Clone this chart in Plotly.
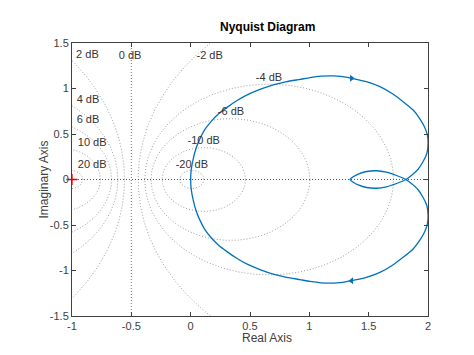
import numpy as np
import plotly.graph_objects as go

# ---- data ----
# Nyquist curve, one branch (the other branch is its complex conjugate)
nyq_re = [0.0, 0.004, 0.022, 0.045, 0.072, 0.12, 0.177, 0.233, 0.303, 0.388, 0.472, 0.584,
          0.696, 0.809, 0.921, 1.005, 1.10, 1.20, 1.28, 1.356, 1.48, 1.595, 1.707, 1.79,
          1.875, 1.93, 1.97, 1.995, 2.0, 1.99, 1.96, 1.915, 1.86, 1.814, 1.735, 1.65,
          1.567, 1.483, 1.412, 1.37, 1.342]
nyq_im = [0.0, 0.10, 0.23, 0.34, 0.43, 0.55, 0.645, 0.72, 0.79, 0.866, 0.928, 0.99,
          1.04, 1.075, 1.10, 1.12, 1.135, 1.138, 1.13, 1.112, 1.075, 1.02, 0.936, 0.855,
          0.763, 0.67, 0.58, 0.488, 0.378, 0.286, 0.20, 0.11, 0.045, 0.0, -0.044, -0.08,
          -0.096, -0.088, -0.059, -0.03, 0.0]
arrow_idx = 19

# M-circle grid levels (dB)
grid_db = [20, 10, 6, 4, 2, -2, -4, -6, -10, -20]
label_text = ["2 dB", "0 dB", "-2 dB", "-4 dB", "4 dB", "6 dB", "-6 dB", "10 dB", "-10 dB", "20 dB", "-20 dB"]
label_x = [-0.87, -0.51, 0.16, 0.66, -0.865, -0.865, 0.34, -0.83, 0.11, -0.83, 0.01]
label_y = [1.37, 1.35, 1.35, 1.11, 0.875, 0.65, 0.735, 0.40, 0.42, 0.16, 0.16]

x_ticks = [-1, -0.5, 0, 0.5, 1, 1.5, 2]
x_ticktext = ["-1", "-0.5", "0", "0.5", "1", "1.5", "2"]
y_ticks = [-1.5, -1, -0.5, 0, 0.5, 1, 1.5]
y_ticktext = ["-1.5", "-1", "-0.5", "0", "0.5", "1", "1.5"]

FONT = "Liberation Sans, Arial, sans-serif"
GRID_COL = "rgba(140,140,140,0.85)"
AX_COL = "#404040"
BLUE = "#0072BD"

fig = go.Figure()

# M circles
th = np.linspace(0, 2 * np.pi, 1441)
for db in grid_db:
    M = 10 ** (db / 20)
    c = -M ** 2 / (M ** 2 - 1)
    r = abs(M / (M ** 2 - 1))
    fig.add_trace(go.Scatter(x=c + r * np.cos(th), y=r * np.sin(th), mode="lines",
                             line=dict(color=GRID_COL, width=1, dash="1px,2px"),
                             hoverinfo="skip", showlegend=False))
# 0 dB line
fig.add_trace(go.Scatter(x=[-0.5, -0.5], y=[-1.5, 1.5], mode="lines",
                         line=dict(color="rgba(100,100,100,0.9)", width=1, dash="1px,2px"),
                         hoverinfo="skip", showlegend=False))
# real axis
fig.add_trace(go.Scatter(x=[-1, 2], y=[0, 0], mode="lines",
                         line=dict(color="rgba(80,80,80,0.95)", width=1, dash="1px,2px"),
                         hoverinfo="skip", showlegend=False))

# Nyquist curve: conjugate branch reversed, then branch
re_full = list(reversed(nyq_re)) + nyq_re[1:]
im_full = [-v for v in reversed(nyq_im)] + nyq_im[1:]
fig.add_trace(go.Scatter(x=re_full, y=im_full, mode="lines",
                         line=dict(color=BLUE, width=1.3, shape="spline", smoothing=0.5),
                         showlegend=False))
# arrows
fig.add_trace(go.Scatter(x=[nyq_re[arrow_idx]], y=[nyq_im[arrow_idx]], mode="markers",
                         marker=dict(symbol="triangle-right", size=6, color=BLUE),
                         showlegend=False))
fig.add_trace(go.Scatter(x=[nyq_re[arrow_idx]], y=[-nyq_im[arrow_idx]], mode="markers",
                         marker=dict(symbol="triangle-left", size=6, color=BLUE),
                         showlegend=False))
# critical point
fig.add_trace(go.Scatter(x=[-1], y=[0], mode="markers",
                         marker=dict(symbol="cross-thin", size=8, line=dict(color="red", width=1.3)),
                         showlegend=False, cliponaxis=False))

# labels
fig.add_trace(go.Scatter(x=label_x, y=label_y, mode="text", text=label_text,
                         textfont=dict(family=FONT, size=11, color="#333333"),
                         textposition="middle center", showlegend=False, hoverinfo="skip"))

fig.update_layout(
    width=474, height=355,
    margin=dict(l=64, r=54, t=35, b=47),
    paper_bgcolor="white", plot_bgcolor="white",
    font=dict(family=FONT, size=11, color=AX_COL),
    annotations=[
        dict(text="<b>Nyquist Diagram</b>", xref="paper", yref="paper", x=0.549, y=1.0,
             yshift=16, xanchor="center", yanchor="middle", showarrow=False,
             font=dict(family=FONT, size=12, color="black")),
        dict(text="Real Axis", xref="paper", yref="paper", x=0.549, y=0, yshift=-22,
             xanchor="center", yanchor="middle", showarrow=False,
             font=dict(family=FONT, size=12, color=AX_COL)),
        dict(text="Imaginary Axis", xref="paper", yref="paper", x=0, y=0.5, xshift=-29,
             textangle=-90, xanchor="center", yanchor="middle", showarrow=False,
             font=dict(family=FONT, size=12, color=AX_COL)),
    ],
)
fig.update_xaxes(range=[-1, 2], tickvals=x_ticks, ticktext=x_ticktext, ticks="inside",
                 ticklen=4, tickcolor=AX_COL, showline=True, linecolor=AX_COL, linewidth=1,
                 mirror="ticks", showgrid=False, zeroline=False,
                 tickfont=dict(family=FONT, size=11, color=AX_COL))
fig.update_yaxes(range=[-1.5, 1.5], tickvals=y_ticks, ticktext=y_ticktext, ticks="inside",
                 ticklen=4, tickcolor=AX_COL, showline=True, linecolor=AX_COL, linewidth=1,
                 mirror="ticks", showgrid=False, zeroline=False,
                 tickfont=dict(family=FONT, size=11, color=AX_COL))

fig.write_html("out.html")
